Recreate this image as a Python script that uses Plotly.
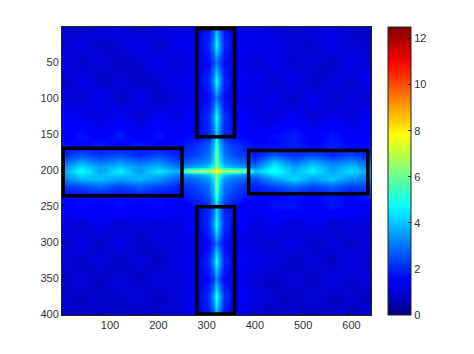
import plotly.graph_objects as go

x_nodes = [5,40,80,120,160,200,240,262,285,305,315,320,325,335,355,378,400,440,480,520,560,600,635]
y_nodes = [5,25,49,75,99,125,150,165,178,188,195,200,205,212,222,235,250,275,300,325,350,375,395]
z_values = [
[0.9,0.8,1.0,1.1,0.8,1.0,1.1,1.1,1.4,1.9,2.9,3.9,2.9,1.9,1.4,1.1,1.1,1.0,0.8,1.0,1.1,0.8,0.9],
[0.8,1.1,0.8,0.9,1.2,0.8,1.2,1.2,1.5,2.1,3.5,4.8,3.5,2.1,1.5,1.2,1.2,1.1,0.9,0.8,1.2,0.9,0.8],
[1.2,0.7,1.0,0.7,0.9,1.2,0.9,1.1,1.3,1.7,2.4,3.1,2.4,1.7,1.3,1.1,0.9,1.2,0.8,1.0,0.7,1.2,0.9],
[0.7,1.2,0.7,1.0,0.7,0.9,1.2,1.2,1.5,2.1,3.6,4.9,3.6,2.1,1.5,1.2,1.2,0.8,1.2,0.7,1.0,0.8,1.2],
[1.0,0.8,1.3,0.7,1.2,0.7,1.0,1.1,1.3,1.7,2.4,3.2,2.4,1.7,1.3,1.1,1.0,1.2,0.7,1.3,0.8,1.0,0.8],
[1.3,1.2,0.9,1.3,0.8,1.3,1.1,1.3,1.6,2.2,3.6,5.0,3.6,2.2,1.6,1.3,1.1,0.9,1.3,0.8,1.2,0.9,1.3],
[1.3,1.8,1.4,1.9,1.3,1.8,1.3,1.5,1.7,2.0,3.0,4.2,3.0,2.0,1.7,1.5,1.3,1.7,1.9,1.4,1.8,1.4,1.3],
[1.7,1.6,1.9,1.5,1.9,1.5,1.7,1.9,2.2,2.7,4.0,6.0,4.0,2.7,2.2,1.9,1.7,1.6,1.9,1.5,1.9,1.5,1.7],
[2.0,2.6,2.1,2.5,2.0,2.4,1.9,2.2,2.5,3.0,4.2,6.5,4.2,3.0,2.5,2.2,1.8,2.6,2.1,2.5,2.0,2.4,1.9],
[2.8,3.6,3.0,3.4,2.9,3.3,2.5,2.7,3.0,3.4,4.5,6.8,4.5,3.4,3.0,2.7,2.4,4.0,3.0,3.6,3.0,3.4,2.7],
[3.3,4.4,3.5,4.1,3.4,3.9,3.1,3.5,3.8,4.2,5.2,7.0,5.2,4.2,3.8,3.5,3.1,4.7,3.5,4.3,3.4,4.0,3.1],
[3.6,4.8,3.5,4.5,3.4,4.4,3.7,6.4,6.9,7.2,7.7,8.0,7.7,7.2,6.9,6.4,4.0,5.0,3.7,4.6,3.5,4.3,3.5],
[3.5,4.4,3.8,4.2,3.7,4.0,3.2,3.5,3.8,4.2,5.2,7.0,5.2,4.2,3.8,3.5,3.3,4.5,4.0,4.1,3.8,4.0,3.2],
[3.1,3.8,3.9,3.5,3.8,3.4,2.6,2.7,3.0,3.4,4.5,6.8,4.5,3.4,3.0,2.7,2.5,3.5,4.2,3.5,4.0,3.3,3.1],
[2.3,2.5,2.9,2.4,2.8,2.4,2.0,2.2,2.5,3.0,4.2,6.5,4.2,3.0,2.5,2.2,1.9,2.4,2.9,2.4,2.8,2.3,2.4],
[1.7,1.6,1.8,1.6,1.8,1.6,1.7,1.9,2.2,2.7,3.9,5.6,3.9,2.7,2.2,1.9,1.7,1.6,1.7,1.6,1.8,1.6,1.9],
[1.3,1.7,1.4,1.7,1.4,1.7,1.3,1.4,1.7,2.0,3.0,4.2,3.0,2.0,1.7,1.4,1.3,1.7,1.8,1.4,1.8,1.4,1.3],
[1.0,0.8,1.2,0.8,1.0,0.9,1.0,1.2,1.6,2.2,3.6,5.0,3.6,2.2,1.6,1.2,1.0,1.2,0.8,1.2,0.8,1.0,0.9],
[0.8,1.2,0.7,1.2,0.7,1.0,1.0,1.1,1.3,1.7,2.4,3.2,2.4,1.7,1.3,1.1,1.0,0.8,1.2,0.7,1.0,0.8,1.0],
[1.0,0.7,1.0,0.7,1.0,0.7,1.1,1.2,1.5,2.1,3.6,5.0,3.6,2.1,1.5,1.2,1.1,1.0,0.7,1.0,0.7,1.1,0.8],
[0.7,1.0,0.7,1.0,0.7,1.0,0.9,1.1,1.3,1.7,2.4,3.3,2.4,1.7,1.3,1.1,0.9,0.7,1.0,0.7,1.1,0.8,1.0],
[0.9,0.7,0.9,0.8,1.0,0.7,1.0,1.2,1.6,2.2,3.8,5.2,3.8,2.2,1.6,1.2,1.0,0.9,0.7,1.0,0.7,0.9,0.7],
[0.8,0.9,0.7,0.9,0.7,0.9,0.9,1.1,1.4,1.9,3.0,4.0,3.0,1.9,1.4,1.1,0.9,0.7,0.9,0.7,0.9,0.7,0.9],
]
cbar_ticks = [0,2,4,6,8,10,12]
x_ticks = [100,200,300,400,500,600]
y_ticks = [50,100,150,200,250,300,350,400]
# Boxes: x0, y0, x1, y1 in image coordinates
boxes = [(280,3,358,153),(280,250,358,399),(3,169,249,235),(387,172,634,232)]

jet = [[0,"#00007f"],[0.11,"#0000ff"],[0.125,"#0000ff"],[0.375,"#00ffff"],[0.625,"#ffff00"],[0.875,"#ff0000"],[1,"#7f0000"]]

fig = go.Figure(go.Heatmap(
    x=x_nodes, y=y_nodes, z=z_values, zmin=0, zmax=12.5,
    colorscale=jet, zsmooth="best",
    colorbar=dict(x=1.055, xanchor="left", xpad=0, ypad=0, y=0, yanchor="bottom", len=1,
                  thickness=23, thicknessmode="pixels", lenmode="fraction",
                  tickvals=cbar_ticks, ticks="inside", ticklen=3, tickcolor="#222",
                  outlinecolor="#222", outlinewidth=1,
                  tickfont=dict(family="Liberation Sans", size=11, color="#333")),
))
for x0, y0, x1, y1 in boxes:
    fig.add_shape(type="rect", x0=x0, y0=y0, x1=x1, y1=y1, line=dict(color="black", width=3.5))
axis = dict(ticks="inside", ticklen=3, tickcolor="#222", showline=True, linecolor="#222", linewidth=1,
            mirror=True, showgrid=False, zeroline=False,
            tickfont=dict(family="Liberation Sans", size=11, color="#333"))
fig.update_xaxes(range=[0.5,640.5], tickvals=x_ticks, **axis)
fig.update_yaxes(range=[400.5,0.5], tickvals=y_ticks, **axis)
fig.update_layout(width=474, height=354, margin=dict(l=54, r=111, t=19, b=47),
                  paper_bgcolor="white", plot_bgcolor="white", showlegend=False)
fig.write_html("out.html")
